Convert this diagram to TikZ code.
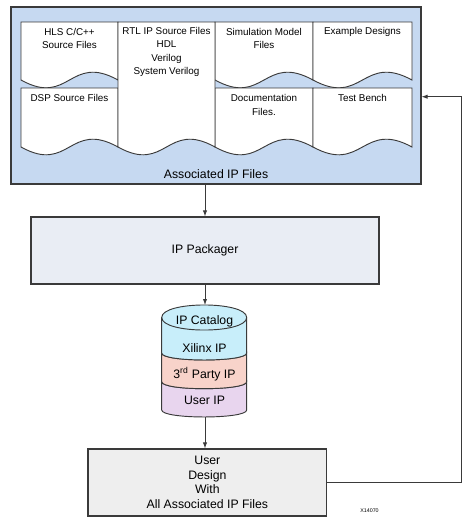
\documentclass[tikz,border=0pt]{standalone}
\usepackage{fontspec}
\setmainfont{Liberation Sans}
\usetikzlibrary{arrows.meta}

\definecolor{assocblue}{HTML}{C6D9F1}
\definecolor{packgray}{HTML}{E9EDF4}
\definecolor{designgray}{HTML}{EEEEEE}
\definecolor{catcyan}{HTML}{C8EEFA}
\definecolor{thirdpink}{HTML}{F8D3CA}
\definecolor{userlilac}{HTML}{E8D5EE}
\definecolor{edgegray}{HTML}{3A3A3A}

% one file page with a wavy bottom: x1, x2, top, bottom
\newcommand{\filedoc}[4]{%
  \draw[docline] (#1,#3) -- (#2,#3) -- (#2,#4)
    .. controls ({(#1+#2)/2},{#4-27}) and ({(#1+#2)/2},{#4+27}) .. (#1,#4) -- cycle;}

\begin{document}
\begin{tikzpicture}[x = 0.75pt, y = -0.75pt,
  docline/.style = {draw = edgegray, line width = 0.7pt, fill = white},
  doctext/.style = {font = \fontsize{7.4}{10}\selectfont, align = center, inner sep = 0pt},
  bigtext/.style = {font = \fontsize{9.2}{10.9}\selectfont, align = center, inner sep = 0pt},
  box/.style = {draw = edgegray, line width = 0.8pt, inner sep = 0pt},
  arr/.style = {draw = edgegray, line width = 0.6pt, -{Latex[length = 4.5pt, width = 3.2pt]}}]
\useasboundingbox (0,0) rectangle (474,525);

% associated files
\node[box, fill = assocblue, minimum width = 307.5pt, minimum height = 132.75pt] (assoc) at (216,95.5) {};
\filedoc{21}{118}{22}{80}
\filedoc{215}{313}{22}{80}
\filedoc{313}{412}{22}{80}
\filedoc{21}{118}{88}{147}
\filedoc{215}{313}{88}{147}
\filedoc{313}{412}{88}{147}
\filedoc{118}{215}{22}{147}
\node[doctext] (hls) at (69.5,38.4) {HLS C/C++\\Source Files};
\node[doctext] (rtl) at (166.5,52) {RTL IP Source Files\\HDL\\Verilog\\System Verilog};
\node[doctext] (sim) at (264,38.4) {Simulation Model\\Files};
\node[doctext] (ex) at (362.5,31.7) {Example Designs};
\node[doctext] (dsp) at (69.5,98.3) {DSP Source Files};
\node[doctext] (docu) at (264,105) {Documentation\\Files.};
\node[doctext] (tb) at (362.5,98.3) {Test Bench};
\node[bigtext] (assoclabel) at (216,174) {Associated IP Files};

% packager
\node[box, fill = packgray, minimum width = 261pt, minimum height = 50.25pt, bigtext] (packager) at (205,250.5) {IP Packager};

% catalog cylinder
\draw[docline, fill = userlilac] (161.7,381.7) .. controls (161.7,391) and (246.7,391) .. (246.7,381.7)
  -- (246.7,410) .. controls (246.7,419.3) and (161.7,419.3) .. (161.7,410) -- cycle;
\draw[docline, fill = thirdpink] (161.7,353) .. controls (161.7,362.3) and (246.7,362.3) .. (246.7,353)
  -- (246.7,381.7) .. controls (246.7,391) and (161.7,391) .. (161.7,381.7) -- cycle;
\draw[docline, fill = catcyan] (161.7,317.5) .. controls (161.7,300.8) and (246.7,300.8) .. (246.7,317.5)
  -- (246.7,353) .. controls (246.7,362.3) and (161.7,362.3) .. (161.7,353) -- cycle;
\draw[docline, fill = none] (161.7,317.5) .. controls (161.7,334.2) and (246.7,334.2) .. (246.7,317.5);
\coordinate (cyltop) at (205,305);
\coordinate (cylbot) at (205,417);
\node[bigtext] (cat) at (204.5,321) {IP Catalog};
\node[bigtext] (xil) at (204.5,348) {Xilinx IP};
\node[bigtext] (third) at (204.5,374) {3\textsuperscript{rd} Party IP};
\node[bigtext] (user) at (204.5,400) {User IP};

% user design
\node[box, fill = designgray, minimum width = 179pt, minimum height = 50.25pt, bigtext] (design) at (207.35,482.5) {User\\Design\\With\\All Associated IP Files};
\node[font = \fontsize{4}{5}\selectfont, inner sep = 0pt] (fig) at (369.5,511) {X14070};

% connectors
\draw[arr] (packager.north |- assoc.south) -- (packager.north);
\draw[arr] (packager.south) -- (cyltop);
\draw[arr] (cylbot) -- (cylbot |- design.north);
\coordinate (turn) at (461.7,96.7);
\draw[arr] (design.east) -| (turn) -- (turn -| assoc.east);
\end{tikzpicture}
\end{document}
